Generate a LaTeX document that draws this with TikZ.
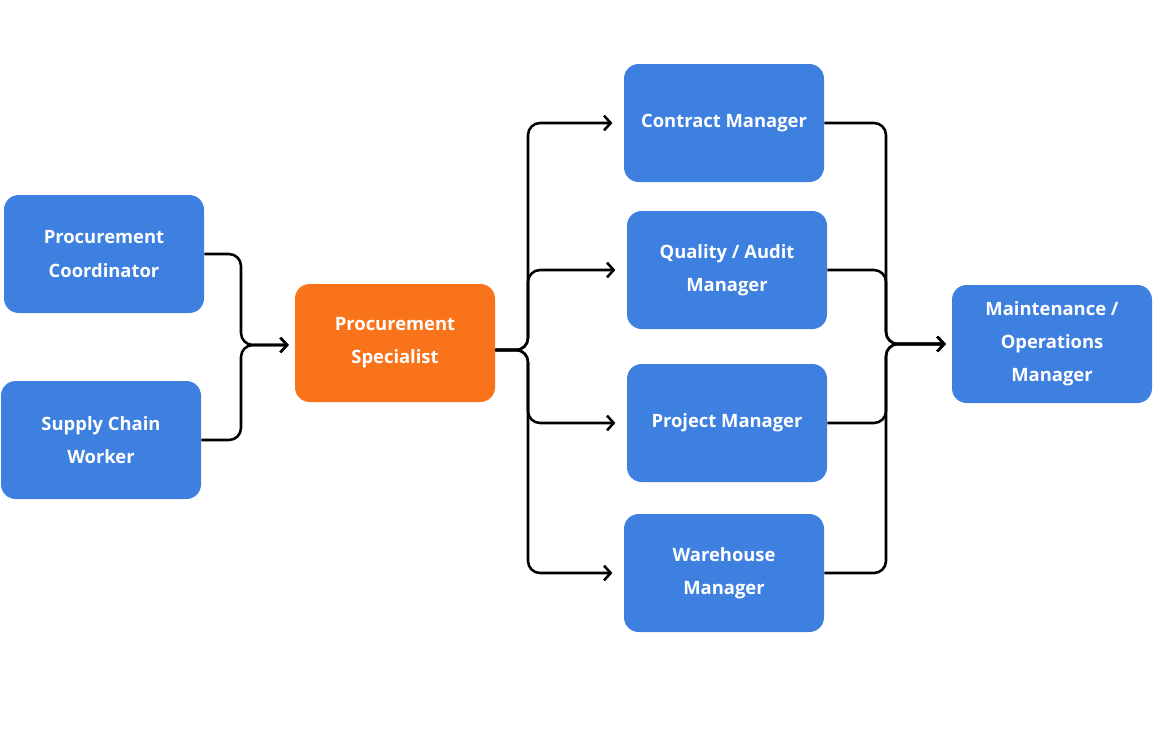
\documentclass[tikz,border=0pt]{standalone}
\usepackage{fontspec}
\setmainfont{Open Sans}
\usetikzlibrary{arrows.meta}
\definecolor{roleblue}{RGB}{62,128,224}
\definecolor{roleorange}{RGB}{249,115,26}

\begin{document}
\begin{tikzpicture}[x=0.75pt,y=-0.75pt,
    role/.style={rectangle,rounded corners=11pt,fill=roleblue,text=white,
      font=\bfseries\fontsize{13.8}{24.8}\selectfont,align=center,
      minimum width=150pt,minimum height=88.5pt,inner sep=2pt},
    link/.style={line width=1.9pt,rounded corners=9pt},
    flow/.style={link,-{Straight Barb[length=5pt,width=11pt,line width=1.9pt]},shorten >=4.5pt}]
      \useasboundingbox (0,0) rectangle (1153,740);
      %this draws the nodes
      \node [role] (coord) at (104,254) {Procurement\\Coordinator};
      \node [role] (supply) at (101,440) {Supply Chain\\Worker};
      \node [role,fill=roleorange] (spec) at (395,343) {Procurement\\Specialist};
      \node [role] (contract) at (724,123) {Contract Manager};
      \node [role] (quality) at (727,270) {Quality / Audit\\Manager};
      \node [role] (project) at (727,423) {Project Manager};
      \node [role] (warehouse) at (724,573) {Warehouse\\Manager};
      \node [role] (maint) at (1052,344) {Maintenance /\\Operations\\Manager};
      %this draws the junctions
      \coordinate (jl) at (241,345);
      \coordinate (jm) at (528,350);
      \coordinate (jr) at (886,344);
      %this draws the lines
      \foreach \x in {coord,supply}
        \draw[flow] (\x.east) -| (jl) -- (jl -| spec.west);
      \foreach \x in {contract,quality,project,warehouse}
        \draw[flow,shorten >=8.5pt] (spec.east |- jm) -- (jm) |- (\x.west);
      \foreach \x in {contract,quality,project,warehouse}
        \draw[flow] (\x.east) -| (jr) -- (jr -| maint.west);
    \end{tikzpicture}
\end{document}
